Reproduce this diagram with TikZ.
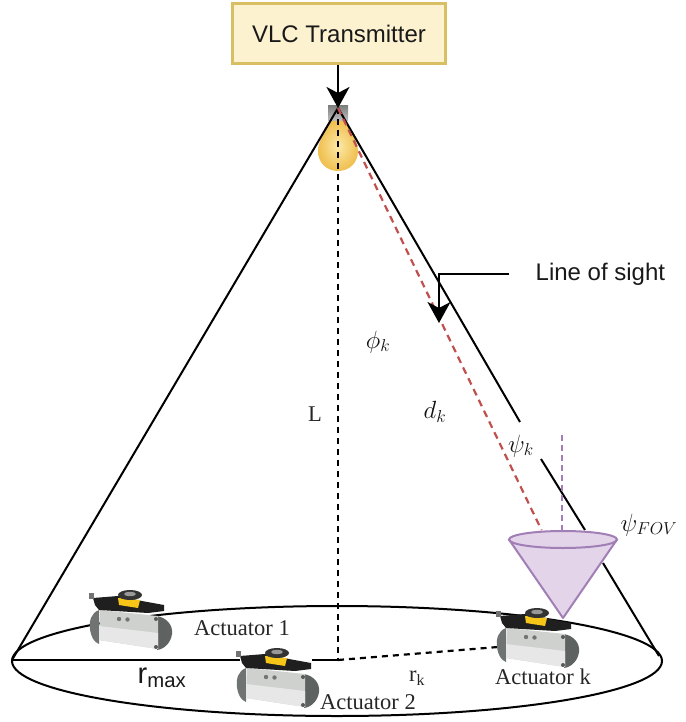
\documentclass[tikz,border=0pt]{standalone}
\usepackage{fontspec}
\setmainfont{Liberation Serif}
\newfontfamily\arialfont{Liberation Sans}
\usetikzlibrary{arrows.meta}
\definecolor{boxfill}{HTML}{FDF2D0}
\definecolor{boxline}{HTML}{D9BF64}
\definecolor{losred}{HTML}{C0504D}
\definecolor{conefill}{HTML}{E3D4E9}
\definecolor{coneline}{HTML}{A17FB6}
\definecolor{capgray}{HTML}{6F7371}
\definecolor{bodygray}{HTML}{CFD1CF}
\definecolor{bodylight}{HTML}{E6E7E6}
\definecolor{yellowpart}{HTML}{F5C518}
\definecolor{labelgray}{HTML}{111111}
\definecolor{bulbedge}{HTML}{F0BF50}
\definecolor{bulbmid}{HTML}{FBE9A6}
\tikzset{
  wire/.style={black,line width=2pt},
  blackdash/.style={black,line width=2.2pt,dash pattern=on 6pt off 5pt},
  reddash/.style={losred,line width=2.2pt,dash pattern=on 7pt off 5pt},
  purpledash/.style={coneline,line width=2pt,dash pattern=on 6pt off 4pt},
  bigarrow/.style={wire,-{Stealth[length=21pt,width=23pt,inset=6pt]}},
  seriflabel/.style={inner sep=0pt,font=\fontsize{22.5}{24}\selectfont,text=black!85},
  sanslabel/.style={inner sep=0pt,font=\arialfont\fontsize{24}{26}\selectfont,text=black!90},
  rmaxlabel/.style={inner sep=0pt,font=\arialfont\fontsize{29}{30}\selectfont,text=black!90},
  mathlabel/.style={inner sep=0pt,font=\fontsize{25}{27}\selectfont,text=labelgray},
  pics/actuatorunit/.style={code={
    % coordinates in pixels, relative to the middle of the unit
    \fill[capgray] (-29,-13) .. controls (-37,-10) and (-39,-2) .. (-38,6) .. controls (-37,14) and (-34,19) .. (-29,21) -- cycle;
    \fill[capgray!85!black] (29,-7) .. controls (39,-5) and (45,2) .. (44,11) .. controls (43,19) and (37,26) .. (29,27) -- cycle;
    \fill[bodygray] (-28,-13) -- (30,-7) -- (30,26) -- (-29,17) -- cycle;
    \fill[bodylight] (-29,3) -- (30,10) -- (30,26) -- (-29,17) -- cycle;
    \fill[black!88] (-35,-25) -- (-10,-27) -- (14,-22) -- (36,-18) -- (36,-12) -- (20,-10) -- (-29,-13) -- (-33,-18) -- cycle;
    \fill[black!55] (-39,-30) rectangle (-34,-24);
    \fill[yellowpart] (-10,-25) -- (12,-23) -- (10,-15) -- (-9,-18) -- cycle;
    \fill[black!80] (2,-28) ellipse (12 and 5);
    \fill[black!40] (2,-29) ellipse (6 and 2.2);
    \fill[black!55] (-9,-4) circle (2.2) (-0.5,-3.5) circle (2.2);
    \fill[black!65] (28,-4) circle (2) (28,24) circle (2);
  }}
}
\begin{document}
\begin{tikzpicture}[x=1pt,y=-1pt]
\useasboundingbox (0,0) rectangle (685,722);
\fill[white] (0,0) rectangle (685,722);
% key points
\coordinate (src) at (338,108);
\coordinate (rimL) at (12,660);
\coordinate (rimC) at (338,660);
\coordinate (rimR) at (659,656);
\coordinate (rmaxEnd) at (240,660);
\coordinate (rmaxBack) at (312,660);
\coordinate (breakA) at (520,422);
\coordinate (breakB) at (541,459);
\coordinate (breakC) at (585,530);
\coordinate (breakD) at (603,563);
\coordinate (rxEnd) at (541.5,530);
\coordinate (rkEnd) at (498,647);
\coordinate (normalTop) at (562,435);
\coordinate (normalEnd) at (562,531);
\coordinate (elbow) at (439,274);
\coordinate (losTip) at (439,323);
\coordinate (losStart) at (509,274);
\coordinate (apex) at (563,618);
\coordinate (coneL) at (509,539.5);
\coordinate (coneR) at (617,539.5);
% floor circle
\draw[wire] (337,661) ellipse (325 and 55);
% bulb
\shade[top color=black!50,bottom color=black!25] (328,106) rectangle (348,121);
\shade[inner color=bulbmid,outer color=bulbedge,opacity=1]
  (329,121) -- (347,121) .. controls (349,130) and (358,140) .. (358,151)
  .. controls (358,163) and (349,171) .. (338,171)
  .. controls (327,171) and (318,163) .. (318,151)
  .. controls (318,140) and (327,130) .. (329,121) -- cycle;
% cone
\draw[wire] (src) -- (rimL);
\draw[wire] (src) -- (breakA);
\draw[wire] (breakB) -- (breakC);
\draw[wire] (breakD) -- (rimR);
\draw[blackdash] (src) -- (rimC);
\draw[wire] (rimL) -- (rmaxEnd);
\draw[wire] (rmaxBack) -- (rimC);
\draw[blackdash] (rimC) -- (rkEnd);
\draw[reddash] (src) -- (rxEnd);
\draw[purpledash] (normalTop) -- (normalEnd);
% box
\node[draw=boxline,fill=boxfill,line width=2.2pt,minimum width=213pt,minimum height=60pt,inner sep=0pt,
      font=\arialfont\fontsize{24}{26}\selectfont,text=black!90] (tx) at (339,33.5) {VLC Transmitter};
\draw[bigarrow] (tx.south -| src) -- (src);
% line of sight
\node[sanslabel,anchor=west] (los) at (535.5,274) {Line of sight};
\draw[bigarrow] (losStart) -- (elbow) -- (losTip);
% actuators
\pic at (128,623) {actuatorunit};
\pic at (275,681) {actuatorunit};
\pic at (535,641) {actuatorunit};
% receiver cone
\fill[conefill] (coneL) -- (apex) -- (coneR) -- cycle;
\draw[coneline,line width=2pt,fill=conefill] (563,539.5) ellipse (54 and 8.5);
\draw[coneline,line width=2pt,line join=round] (coneL) -- (apex) -- (coneR);
% labels
\node[seriflabel] (lblL) at (315,414) {L};
\node[mathlabel] (lblphi) at (378,342) {$\phi_k$};
\node[mathlabel] (lbld) at (435,412) {$d_k$};
\node[mathlabel] (lblpsi) at (521,446) {$\psi_k$};
\node[mathlabel] (lblfov) at (649,525) {$\psi_{FOV}$};
\node[seriflabel] (act1) at (242,628) {Actuator 1};
\node[seriflabel] (act2) at (368,702) {Actuator 2};
\node[seriflabel] (actk) at (543,677) {Actuator k};
\node[seriflabel] (lblrk) at (417,678) {r\textsubscript{k}};
\node[rmaxlabel] (lblrmax) at (162,678) {r\textsubscript{max}};
\end{tikzpicture}
\end{document}
